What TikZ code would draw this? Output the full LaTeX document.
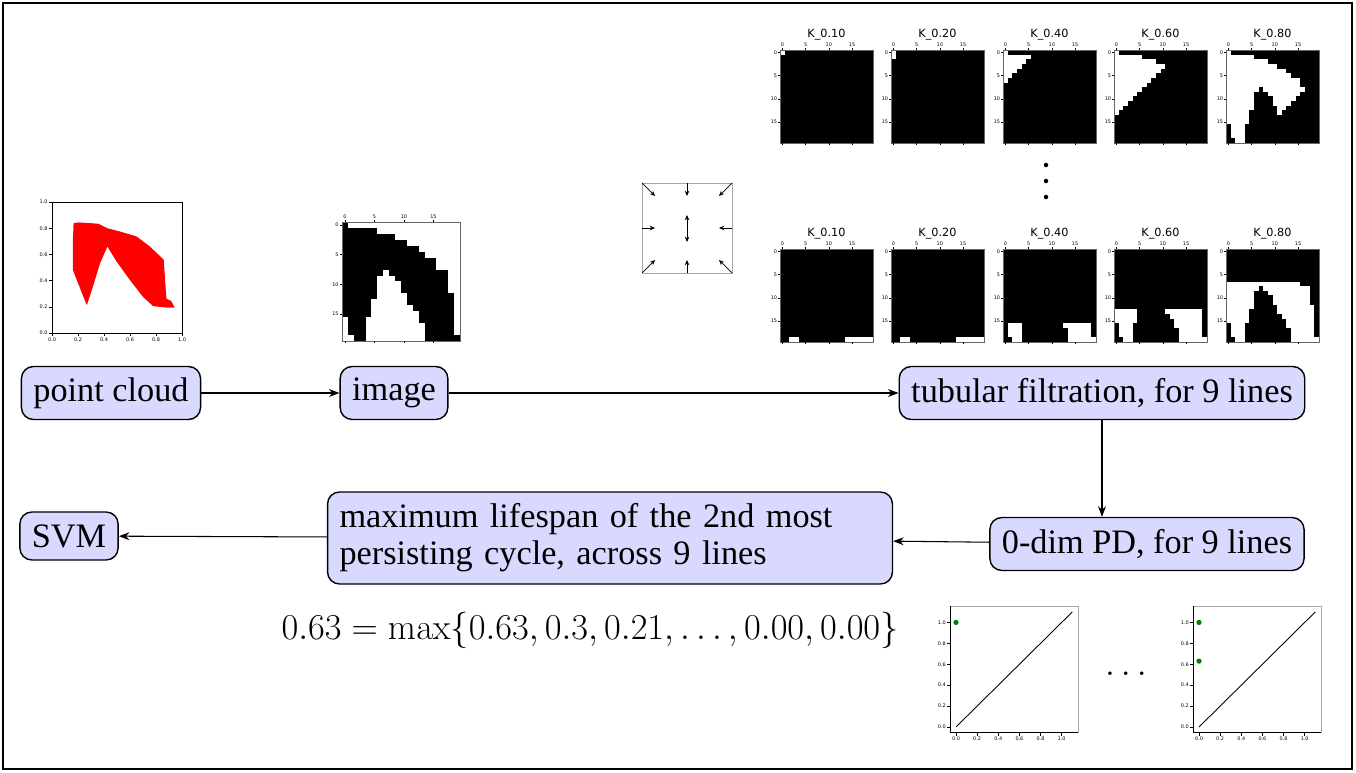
\documentclass[tikz,border=0pt]{standalone}
\usepackage[no-math]{fontspec}
\setmainfont{Liberation Serif}
\newfontfamily\plotfont{DejaVu Sans}
\usetikzlibrary{arrows.meta}

\definecolor{pdgreen}{RGB}{0,128,0}
\newcommand{\bigfont}{\fontsize{19.5}{21}\selectfont}
\newcommand{\tickfont}{\plotfont\fontsize{2.8}{3}\selectfont}
\newcommand{\titlefont}{\plotfont\fontsize{6.4}{7}\selectfont}

% black pixels of the 20x20 image: row/first column/last column
\def\imgrows{0/0/0,1/0/5,2/0/8,3/0/10,4/0/12,5/0/13,6/0/15,7/0/15,8/0/6,8/8/17,9/0/5,9/9/17,10/0/5,10/10/17,11/0/5,11/10/17,12/0/5,12/11/18,13/0/4,13/11/18,14/0/4,14/12/18,15/0/4,15/13/18,16/1/3,16/13/18,17/1/3,17/14/18,18/1/3,18/14/18,19/2/3,19/14/19}

\tikzset{
  stagebox/.style={draw, fill=blue!15, rounded corners=0.24cm, line width=0.8pt,
    minimum height=1.06cm, inner xsep=0.24cm, font=\bigfont},
  flow/.style={-{Stealth[length=6pt,width=4.5pt]}, line width=0.6pt},
  dirarrow/.style={-{Stealth[length=3pt,width=2.6pt]}, line width=0.4pt},
  spine/.style={line width=0.3pt},
  tick/.style={font=\tickfont, inner sep=0.6pt},
}

% ticks of a 20x20 matshow
\newcommand{\gridticks}{%
  \foreach \t in {0,5,10,15} {
    \draw[spine] (\t+0.5,0) -- (\t+0.5,-0.35) node[tick, above] {\t};
    \draw[spine] (\t+0.5,20) -- (\t+0.5,20.35);
    \draw[spine] (0,\t+0.5) -- (-0.35,\t+0.5) node[tick, left] {\t};
  }}

% one filtration step: x, y, title, direction (0 diagonal, 1 from bottom), threshold
\newcommand{\kpanel}[5]{%
  \begin{scope}[shift={(#1,#2)}, x=0.093cm, y=-0.093cm]
    \fill (0,0) rectangle (20,20);
    \foreach \r/\a/\b in \imgrows {
      \pgfmathtruncatemacro{\bb}{ifthenelse(#4==0, min(\b,#5-\r), ifthenelse(19-\r<=#5, \b, -1))}
      \ifnum\bb<\a\relax\else\fill[white] (\a,\r) rectangle (\bb+1,\r+1);\fi
    }
    \draw[spine, black!60] (0,0) rectangle (20,20);
    \gridticks
    \node[font=\titlefont] at (10,-3.3) {#3};
  \end{scope}}

% persistence diagram frame
\newcommand{\pdaxes}{%
  \draw[spine, black!35] (-0.055,1.155) -- (1.155,1.155) -- (1.155,-0.055);
  \draw[spine] (-0.055,1.155) -- (-0.055,-0.055) -- (1.155,-0.055);
  \foreach \t in {0.0,0.2,0.4,0.6,0.8,1.0} {
    \draw[spine] (\t,-0.055) -- (\t,-0.085) node[tick, below] {\t};
    \draw[spine] (-0.055,\t) -- (-0.085,\t) node[tick, left] {\t};
  }
  \draw[line width=0.5pt] (0,0) -- (1.1,1.1);}

\begin{document}
\begin{tikzpicture}[x=0.02cm, y=-0.02cm]
  \useasboundingbox (0,0) rectangle (1356,773);
  \fill[white] (0,0) rectangle (1356,773);
  \draw[line width=0.9pt] (3,3) rectangle (1352,769);

  % point cloud
  \begin{scope}[shift={(52,333)}, x=2.6cm, y=2.62cm]
    \fill[red] (0.166,0.839) -- (0.204,0.844) -- (0.293,0.839) -- (0.357,0.834) -- (0.426,0.80)
      -- (0.523,0.775) -- (0.651,0.737) -- (0.753,0.66) -- (0.849,0.57) -- (0.86,0.557)
      -- (0.872,0.379) -- (0.88,0.263) -- (0.918,0.243) -- (0.944,0.194) -- (0.88,0.194)
      -- (0.778,0.205) -- (0.70,0.276) -- (0.60,0.404) -- (0.497,0.545) -- (0.426,0.66)
      -- (0.37,0.532) -- (0.306,0.327) -- (0.268,0.212) -- (0.242,0.276) -- (0.191,0.404)
      -- (0.161,0.481) -- (0.161,0.711) -- cycle;
    \draw[spine] (0,0) rectangle (1,1);
    \foreach \t in {0.0,0.2,0.4,0.6,0.8,1.0} {
      \draw[spine] (\t,0) -- (\t,-0.025) node[tick, below] {\t};
      \draw[spine] (0,\t) -- (-0.025,\t) node[tick, left] {\t};
    }
  \end{scope}

  % image
  \begin{scope}[shift={(342,222)}, x=0.118cm, y=-0.119cm]
    \foreach \r/\a/\b in \imgrows {\fill (\a,\r) rectangle (\b+1,\r+1);}
    \draw[spine, black!60] (0,0) rectangle (20,20);
    \gridticks
  \end{scope}

  % directions
  \draw[black!35, line width=0.4pt] (642,183) rectangle (732,273);
  \foreach \dx/\dy in {-1/-1,0/-1,1/-1,-1/0,1/0,-1/1,0/1,1/1}
    \draw[dirarrow] (687+45*\dx,228+45*\dy) -- (687+32*\dx,228+32*\dy);
  \draw[dirarrow, {Stealth[length=3pt,width=2.6pt]}-{Stealth[length=3pt,width=2.6pt]}] (687,215) -- (687,242);

  % filtrations
  \kpanel{780}{50}{K\_0.10}{0}{0}
  \kpanel{891}{50}{K\_0.20}{0}{1}
  \kpanel{1003}{50}{K\_0.40}{0}{6}
  \kpanel{1114}{50}{K\_0.60}{0}{13}
  \kpanel{1226}{50}{K\_0.80}{0}{24}
  \foreach \y in {165,181,197} \fill (1046,\y) circle (0.045cm);
  \kpanel{780}{249}{K\_0.10}{1}{0}
  \kpanel{891}{249}{K\_0.20}{1}{0}
  \kpanel{1003}{249}{K\_0.40}{1}{3}
  \kpanel{1114}{249}{K\_0.60}{1}{6}
  \kpanel{1226}{249}{K\_0.80}{1}{12}

  % stages
  \node[stagebox] (cloud) at (111,393) {point cloud};
  \node[stagebox] (image) at (394,393) {image};
  \node[stagebox] (tubular) at (1102,393) {tubular filtration, for 9 lines};
  \node[stagebox] (pd) at (1147,544) {0-dim PD, for 9 lines};
  \node[stagebox, text width=10.82cm, align=left, minimum height=1.84cm] (lifespan) at (610,538)
    {maximum lifespan of the 2nd most\\persisting cycle, across 9 lines};
  \node[stagebox, minimum height=0.96cm] (svm) at (69,536) {SVM};

  \draw[flow] (cloud) -- (image);
  \draw[flow] (image) -- (tubular);
  \draw[flow] (tubular.south) -- (tubular.south |- pd.north);
  \draw[flow] (pd) -- (lifespan);
  \draw[flow] (lifespan) -- (svm);

  \node[font=\bigfont] (maxval) at (590,630) {$0.63 = \max\{0.63, 0.3, 0.21, \ldots, 0.00, 0.00\}$};

  % persistence diagrams
  \begin{scope}[shift={(956,727)}, x=2.114cm, y=2.092cm]
    \pdaxes
    \fill[pdgreen] (0,1) circle (0.025);
  \end{scope}
  \node[font=\bigfont] (more) at (1126,674) {$\ldots$};
  \begin{scope}[shift={(1199,727)}, x=2.114cm, y=2.092cm]
    \pdaxes
    \fill[pdgreen] (0,1) circle (0.025);
    \fill[pdgreen] (0,0.63) circle (0.025);
  \end{scope}
\end{tikzpicture}
\end{document}
